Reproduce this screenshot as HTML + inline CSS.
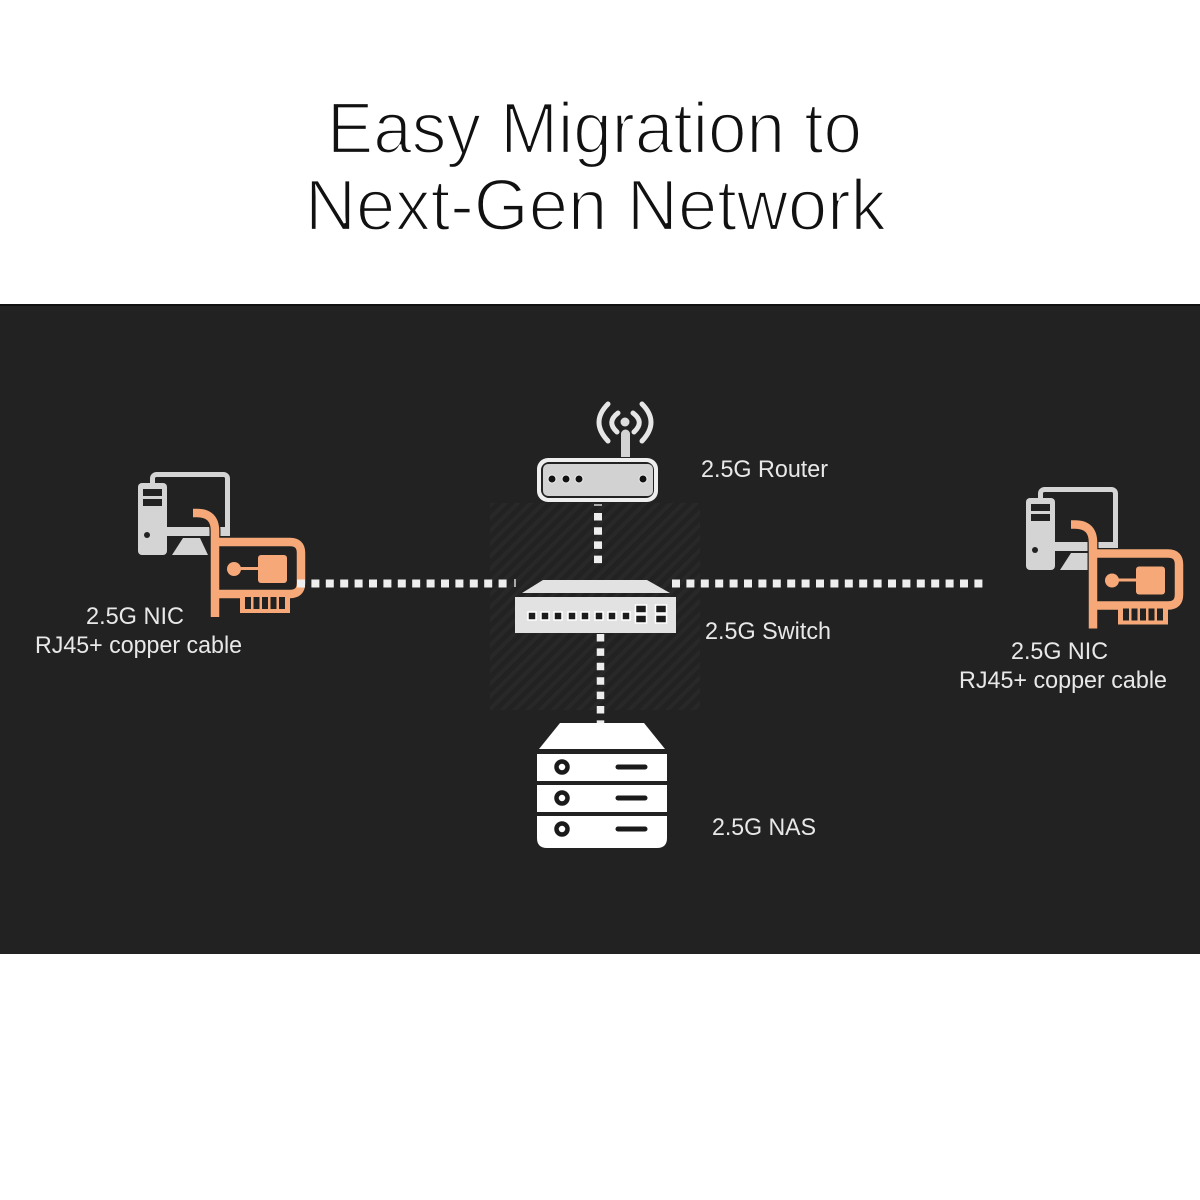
<!DOCTYPE html>
<html><head><meta charset="utf-8"><style>html,body{margin:0;padding:0;background:#fff}svg{display:block}text{font-family:"Liberation Sans",sans-serif}</style></head>
<body>
<svg xmlns="http://www.w3.org/2000/svg" width="1200" height="1200" viewBox="0 0 1200 1200">
<defs>
<pattern id="h" width="9" height="9" patternUnits="userSpaceOnUse" patternTransform="rotate(45)"><rect width="9" height="9" fill="#222"/><rect width="4" height="9" fill="#282828"/></pattern>
<g id="pc">
<rect x="152.5" y="474.5" width="75" height="58" rx="4" fill="none" stroke="#d4d4d4" stroke-width="5"/>
<rect x="160" y="527" width="70" height="9" fill="#d4d4d4"/>
<path d="M172 555 L183 538 H200 L208 555Z" fill="#d4d4d4"/>
<rect x="138" y="483" width="29" height="72" rx="4" fill="#d4d4d4"/>
<rect x="143" y="489" width="19" height="7" fill="#222"/><rect x="143" y="499" width="19" height="7" fill="#222"/>
<circle cx="147" cy="535" r="3" fill="#222"/>
</g>
<g id="nic">
<path d="M193 513 H197 Q215 513 215 531 V617" fill="none" stroke="#222" stroke-width="11"/>
<path d="M215 542 H290 Q301 542 301 553 V583 Q301 594 290 594 H215" fill="none" stroke="#222" stroke-width="11"/>
<path d="M193 513 H197 Q215 513 215 531 V617" fill="none" stroke="#f6a878" stroke-width="8.5"/>
<path d="M215 542 H290 Q301 542 301 553 V583 Q301 594 290 594 H215" fill="none" stroke="#f6a878" stroke-width="8.5"/>
<rect x="240" y="596" width="50" height="17" fill="#f6a878"/>
<rect x="245" y="597" width="6" height="12" fill="#222"/><rect x="253.5" y="597" width="6" height="12" fill="#222"/><rect x="262" y="597" width="6" height="12" fill="#222"/><rect x="270.5" y="597" width="6" height="12" fill="#222"/><rect x="279" y="597" width="6" height="12" fill="#222"/>
<rect x="258" y="555" width="29" height="28" rx="3" fill="#f6a878"/>
<circle cx="234" cy="569" r="7" fill="#f6a878"/>
<rect x="234" y="567" width="26" height="3" fill="#f6a878"/>
</g>
</defs>
<rect width="1200" height="1200" fill="#fff"/>
<rect x="0" y="304" width="1200" height="650" fill="#222"/>
<rect x="0" y="304" width="1200" height="2" fill="#111"/>
<rect x="490" y="503" width="210" height="207" fill="url(#h)"/>

<text x="327" y="153" font-size="72" textLength="535" lengthAdjust="spacingAndGlyphs" fill="#111" stroke="#fff" stroke-width="2.2">Easy Migration to</text>
<text x="305" y="230" font-size="72" textLength="581" lengthAdjust="spacingAndGlyphs" fill="#111" stroke="#fff" stroke-width="2.2">Next-Gen Network</text>

<use href="#pc"/>
<use href="#nic"/>
<use href="#pc" x="888" y="15"/>
<use href="#nic" x="878" y="11.5"/>

<!-- connectors -->
<line x1="297" y1="583.5" x2="509" y2="583.5" stroke="#eee" stroke-width="8" stroke-dasharray="8 6.4"/>
<rect x="514" y="579" width="2" height="8" fill="#aaa"/>
<line x1="672" y1="583.5" x2="984" y2="583.5" stroke="#eee" stroke-width="8" stroke-dasharray="8 6.4"/>
<line x1="598" y1="513" x2="598" y2="564" stroke="#eee" stroke-width="8" stroke-dasharray="7.5 6.7"/>
<rect x="594" y="504" width="8" height="2" fill="#aaa"/>
<line x1="600.5" y1="634" x2="600.5" y2="727" stroke="#eee" stroke-width="7.5" stroke-dasharray="7.5 6.9"/>

<!-- router -->
<g fill="none" stroke="#e6e6e6" stroke-width="5" stroke-linecap="round">
<path d="M608 404 Q590 422 608 441"/><path d="M642 404 Q660 422 642 441"/>
<path d="M618 413 Q606 422 617 432"/><path d="M633 413 Q645 422 634 432"/>
</g>
<circle cx="625" cy="422" r="4.5" fill="#ddd"/>
<path d="M621 457 V434 a4.5 4.5 0 0 1 9 0 V457Z" fill="#d4d4d4"/>
<rect x="537" y="458" width="121" height="44" rx="11" fill="#eee"/>
<rect x="541" y="462" width="113" height="36" rx="8" fill="#222"/>
<rect x="543" y="464" width="110" height="32" rx="5" fill="#d2d2d2"/>
<g fill="#111" stroke="#eee" stroke-width="1">
<circle cx="552" cy="479" r="4"/><circle cx="566" cy="479" r="4"/><circle cx="579" cy="479" r="4"/><circle cx="643" cy="479" r="4"/>
</g>

<!-- switch -->
<path d="M522 593 L543 580 H647 L670 593Z" fill="#e2e2e2"/>
<rect x="515" y="597" width="161" height="36" fill="#e2e2e2"/>
<g fill="#1c1c1c" stroke="#fff" stroke-width="1.5">
<rect x="528" y="612" width="8" height="8"/><rect x="541" y="612" width="8" height="8"/><rect x="554" y="612" width="8" height="8"/><rect x="568" y="612" width="8" height="8"/><rect x="581" y="612" width="8" height="8"/><rect x="595" y="612" width="8" height="8"/><rect x="608" y="612" width="8" height="8"/><rect x="622" y="612" width="8" height="8"/>
<rect x="635.5" y="605" width="11" height="8"/><rect x="635.5" y="615" width="11" height="8"/><rect x="655.5" y="605" width="11" height="8"/><rect x="655.5" y="615" width="11" height="8"/>
</g>

<!-- NAS -->
<path d="M560 723 H644 L665 749 H539Z" fill="#fff"/>
<rect x="537" y="754" width="130" height="27" fill="#fff"/>
<rect x="537" y="785" width="130" height="27" fill="#fff"/>
<path d="M537 816 H667 V838 Q667 848 657 848 H547 Q537 848 537 838Z" fill="#fff"/>
<g fill="#fff" stroke="#1a1a1a" stroke-width="4.5">
<circle cx="562" cy="767" r="5.5"/><circle cx="562" cy="798" r="5.5"/><circle cx="562" cy="829" r="5.5"/>
</g>
<g stroke="#1a1a1a" stroke-width="5" stroke-linecap="round">
<line x1="618" y1="767" x2="645" y2="767"/><line x1="618" y1="798" x2="645" y2="798"/><line x1="618" y1="829" x2="645" y2="829"/>
</g>

<!-- labels -->
<g fill="#e8e8e8" font-size="24">
<text x="701" y="477" textLength="127" lengthAdjust="spacingAndGlyphs">2.5G Router</text>
<text x="705" y="639" textLength="126" lengthAdjust="spacingAndGlyphs">2.5G Switch</text>
<text x="712" y="835" textLength="104" lengthAdjust="spacingAndGlyphs">2.5G NAS</text>
<text x="86" y="624" textLength="98" lengthAdjust="spacingAndGlyphs">2.5G NIC</text>
<text x="35" y="653" textLength="207" lengthAdjust="spacingAndGlyphs">RJ45+ copper cable</text>
<text x="1011" y="659" textLength="97" lengthAdjust="spacingAndGlyphs">2.5G NIC</text>
<text x="959" y="688" textLength="208" lengthAdjust="spacingAndGlyphs">RJ45+ copper cable</text>
</g>
</svg>
</body></html>
